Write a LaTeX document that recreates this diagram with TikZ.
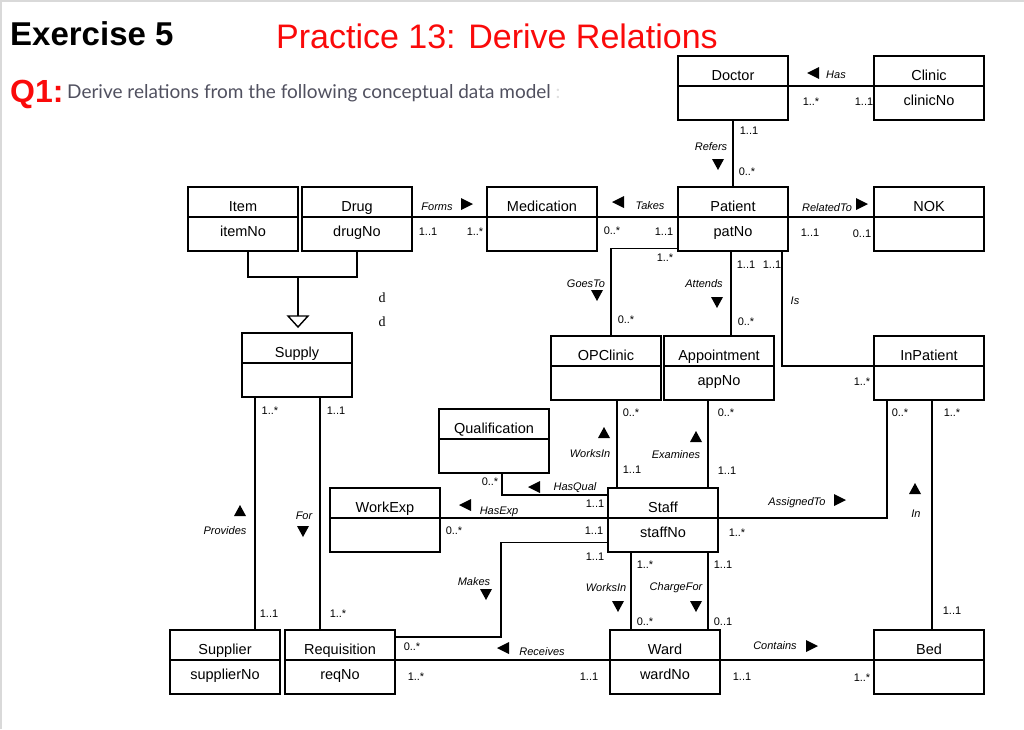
\documentclass[tikz,border=0pt]{standalone}
\usepackage{fontspec}
\setmainfont{Liberation Sans}
\newfontfamily\serifd{Liberation Serif}
\newfontfamily\notefont{Lato}
\usepackage{xcolor}
\definecolor{titlered}{RGB}{250,10,10}
\definecolor{notegray}{RGB}{80,80,95}

\tikzset{
  entity/.style={draw, line width=1.6pt, minimum width=110pt, minimum height=64pt, inner sep=0pt, anchor=north},
  etitle/.style={anchor=base, inner sep=0pt, font=\fontsize{14.5}{16}\selectfont},
  mult/.style={inner sep=0pt, font=\fontsize{11}{13}\selectfont},
  role/.style={inner sep=0pt, font=\fontsize{11}{13}\selectfont\itshape},
  link/.style={line width=1.4pt},
  tridown/.pic={\fill (-6,-5) -- (6,-5) -- (0,6) -- cycle;},
  triup/.pic={\fill (-6,5) -- (6,5) -- (0,-6) -- cycle;},
  trileft/.pic={\fill (6,-6) -- (6,6) -- (-6,0) -- cycle;},
  triright/.pic={\fill (-6,-6) -- (-6,6) -- (6,0) -- cycle;}
}

\newcommand\entity[5]{%
  \node[entity] (#1) at (#2,#3) {};
  \draw[line width=1.6pt] ([yshift=-31pt]#1.north west) coordinate (#1-w) -- ([yshift=-31pt]#1.north east) coordinate (#1-e);
  \node[etitle] (#1-name) at ([yshift=-25pt]#1.north) {#4};
  \node[etitle] (#1-key) at ([yshift=-50pt]#1.north) {#5};
}

\begin{document}
\begin{tikzpicture}[x=1pt,y=-1pt]
                \useasboundingbox (0,0) rectangle (1024,729);
                \draw[gray!30, line width=2pt] (1,729) -- (1,1) -- (1024,1);
                \node[anchor=base west, inner sep=0pt, font=\fontsize{33}{36}\selectfont\bfseries] (exercise) at (10,45) {Exercise 5};
                \node[anchor=base west, inner sep=0pt, text=titlered, font=\fontsize{34}{38}\selectfont] (practice) at (276,48) {Practice 13: Derive Relations};
                \node[anchor=base west, inner sep=0pt, text=titlered, font=\fontsize{32}{34}\selectfont\bfseries] (qone) at (10,102) {Q1:};
                \node[anchor=base west, inner sep=0pt, text=notegray, font=\notefont\fontsize{19}{22}\selectfont] (task) at (67,98) {Derive relations from the following conceptual data model \textcolor{gray!25}{:}};

                \entity{doctor}{733}{55}{Doctor}{}
                \entity{clinic}{929}{55}{Clinic}{clinicNo}
                \entity{item}{243}{186}{Item}{itemNo}
                \entity{drug}{357}{186}{Drug}{drugNo}
                \entity{med}{542}{186}{Medication}{}
                \entity{patient}{733}{186}{Patient}{patNo}
                \entity{nok}{929}{186}{NOK}{}
                \entity{supply}{297}{332}{Supply}{}
                \entity{opclinic}{606}{335}{OPClinic}{}
                \entity{appt}{719}{335}{Appointment}{appNo}
                \entity{inpatient}{929}{335}{InPatient}{}
                \entity{qual}{494}{408}{Qualification}{}
                \entity{workexp}{385}{487}{WorkExp}{}
                \entity{staff}{663}{487}{Staff}{staffNo}
                \entity{supplier}{225}{629}{Supplier}{supplierNo}
                \entity{req}{340}{629}{Requisition}{reqNo}
                \entity{ward}{665}{629}{Ward}{wardNo}
                \entity{bed}{929}{629}{Bed}{}

                \coordinate (genbar) at (298,277);
                \coordinate (gentri) at (298,316);
                \coordinate (makesbend) at (501,590);

                \draw[link] (doctor-e) -- (clinic-w);
                \draw[link] (doctor) -- (patient);
                \draw[link] (drug-e) -- (med-w);
                \draw[link] (med-e) -- (patient-w);
                \draw[link] (patient-e) -- (nok-w);
                \draw[link] ([xshift=5pt]item.south) |- (genbar) -| (drug.south);
                \draw[link] (genbar) -- (gentri);
                \draw[link, fill=white] (gentri) ++(-10,0) -- ++(20,0) -- ++(-10,11) -- cycle;
                \draw[link] ([yshift=3pt]patient.south west) -| ([xshift=5pt]opclinic.north);
                \draw[link] ([xshift=-2pt]patient.south) -- ([xshift=-2pt]patient.south |- appt.north);
                \draw[link] ([xshift=-7pt]patient.south east) |- (inpatient-w);
                \draw[link] ([xshift=11pt]opclinic.south) -- ([xshift=11pt]opclinic.south |- staff.north);
                \draw[link] ([xshift=-11pt]appt.south) -- ([xshift=-11pt]appt.south |- staff.north);
                \draw[link] ([xshift=8pt]qual.south) |- ([yshift=-8pt]staff.north west);
                \draw[link] (workexp-e) -- (staff-w);
                \draw[link] (staff-e) -| ([xshift=-42pt]inpatient.south);
                \draw[link] ([xshift=3pt]inpatient.south) -- ([xshift=3pt]inpatient.south |- bed.north);
                \draw[link] ([yshift=10pt]staff.south west) -| (makesbend) |- ([yshift=-8pt]req.north east);
                \draw[link] (req-e) -- (ward-w);
                \draw[link] (ward-e) -- (bed-w);
                \draw[link] ([xshift=-42pt]supply.south) -- ([xshift=-42pt]supply.south |- supplier.north);
                \draw[link] ([xshift=23pt]supply.south) -- ([xshift=23pt]supply.south |- req.north);
                \draw[link] ([xshift=-32pt]staff.south) -- ([xshift=-32pt]staff.south |- ward.north);
                \draw[link] ([xshift=45pt]staff.south) -- ([xshift=45pt]staff.south |- ward.north);

                \pic at (813,73) {trileft};
                \node[role] (has) at (836,75) {Has};
                \node[mult] (hasd) at (811,102) {1..*};
                \node[mult] (hasc) at (864,102) {1..1};
                \node[mult] (refd) at (749,131) {1..1};
                \node[role] (refers) at (711,147) {Refers};
                \pic at (718,164) {tridown};
                \node[mult] (refp) at (747,172) {0..*};

                \node[role] (forms) at (437,207) {Forms};
                \pic at (467,204) {triright};
                \node[mult] (formd) at (428,232) {1..1};
                \node[mult] (formm) at (475,232) {1..*};
                \pic at (618,202) {trileft};
                \node[role] (takes) at (650,206) {Takes};
                \node[mult] (takem) at (612,231) {0..*};
                \node[mult] (takep) at (664,232) {1..1};
                \node[role] (relto) at (827,208) {RelatedTo};
                \pic at (862,204) {triright};
                \node[mult] (relp) at (810,233) {1..1};
                \node[mult] (reln) at (862,234) {0..1};

                \node[font=\serifd\fontsize{14}{16}\selectfont, inner sep=0pt] (dtop) at (382,298) {d};
                \node[font=\serifd\fontsize{14}{16}\selectfont, inner sep=0pt] (dbot) at (382,322) {d};

                \node[mult] (goesp) at (665,258) {1..*};
                \node[role] (goesto) at (586,284) {GoesTo};
                \pic at (597,295) {tridown};
                \node[mult] (goeso) at (626,320) {0..*};
                \node[mult] (attp) at (746,265) {1..1};
                \node[role] (attends) at (704,284) {Attends};
                \pic at (717,302) {tridown};
                \node[mult] (atta) at (746,322) {0..*};
                \node[mult] (isp) at (772,265) {1..1};
                \node[role] (is) at (795,301) {Is};
                \node[mult] (isi) at (862,382) {1..*};

                \node[mult] (provs) at (270,411) {1..*};
                \pic at (240,511) {triup};
                \node[role] (provides) at (225,531) {Provides};
                \node[mult] (provp) at (269,614) {1..1};
                \node[mult] (fors) at (336,411) {1..1};
                \node[role] (for) at (304,516) {For};
                \pic at (303,531) {tridown};
                \node[mult] (forr) at (338,614) {1..*};

                \node[mult] (wio) at (631,413) {0..*};
                \pic at (604,433) {triup};
                \node[role] (worksin) at (590,454) {WorksIn};
                \node[mult] (wis) at (632,470) {1..1};
                \node[mult] (exa) at (726,413) {0..*};
                \pic at (696,437) {triup};
                \node[role] (examines) at (676,455) {Examines};
                \node[mult] (exs) at (727,471) {1..1};

                \node[mult] (hqq) at (490,482) {0..*};
                \pic at (534,487) {trileft};
                \node[role] (hasqual) at (575,488) {HasQual};
                \node[mult] (hqs) at (595,504) {1..1};
                \pic at (465,505) {trileft};
                \node[role] (hasexp) at (499,512) {HasExp};
                \node[mult] (hew) at (454,531) {0..*};
                \node[mult] (hes) at (594,531) {1..1};

                \node[role] (assignedto) at (797,503) {AssignedTo};
                \pic at (840,500) {triright};
                \node[mult] (ass) at (737,533) {1..*};
                \node[mult] (asi) at (900,413) {0..*};
                \node[mult] (ini) at (952,413) {1..*};
                \pic at (915,489) {triup};
                \node[role] (in) at (916,514) {In};
                \node[mult] (inb) at (952,611) {1..1};

                \node[mult] (mks) at (595,557) {1..1};
                \node[role] (makes) at (474,582) {Makes};
                \pic at (486,594) {tridown};
                \node[mult] (mkr) at (412,647) {0..*};

                \node[mult] (wws) at (645,565) {1..*};
                \node[role] (worksinw) at (606,588) {WorksIn};
                \pic at (618,606) {tridown};
                \node[mult] (wwo) at (645,622) {0..*};
                \node[mult] (cfs) at (723,565) {1..1};
                \node[role] (chargefor) at (676,588) {ChargeFor};
                \pic at (696,606) {tridown};
                \node[mult] (cfw) at (723,622) {0..1};

                \pic at (503,648) {trileft};
                \node[role] (receives) at (542,652) {Receives};
                \node[mult] (rcr) at (416,677) {1..*};
                \node[mult] (rcw) at (589,677) {1..1};
                \node[role] (contains) at (775,646) {Contains};
                \pic at (812,646) {triright};
                \node[mult] (cnw) at (742,677) {1..1};
                \node[mult] (cnb) at (862,678) {1..*};
            \end{tikzpicture}
\end{document}
